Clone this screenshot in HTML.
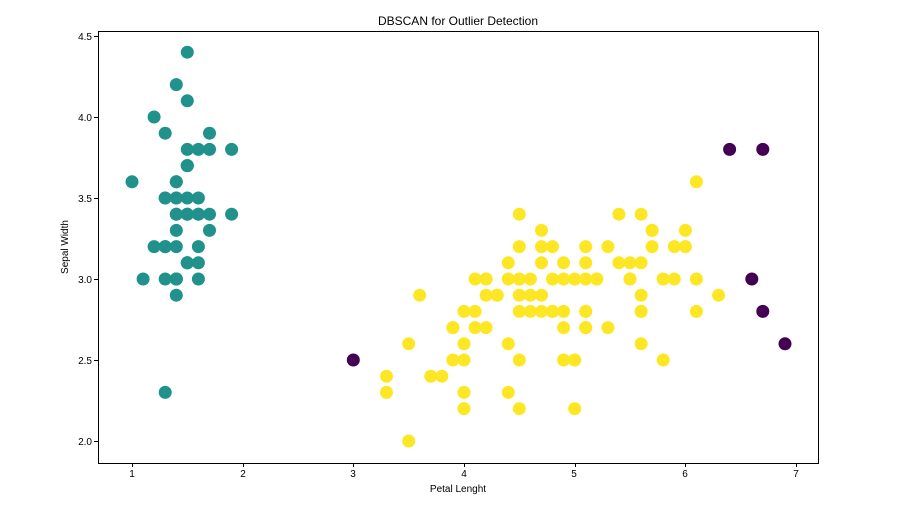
<!DOCTYPE html>
<html><head><meta charset="utf-8"><style>
body{margin:0;background:#fff;}
svg{display:block;font-family:"Liberation Sans","DejaVu Sans",sans-serif;}
</style></head><body>
<svg id="s" width="912" height="510" xmlns="http://www.w3.org/2000/svg">
<rect width="912" height="510" fill="#fff"/>
<g id="pts"></g>
<rect x="98.5" y="31.5" width="720" height="432" fill="none" stroke="#000" stroke-width="1"/>
<g font-size="10" fill="#000" text-anchor="middle">
<text x="132" y="477">1</text><text x="243" y="477">2</text><text x="353" y="477">3</text><text x="464" y="477">4</text><text x="574" y="477">5</text><text x="685" y="477">6</text><text x="796" y="477">7</text>
</g>
<g font-size="10" fill="#000" text-anchor="end">
<text x="92" y="40">4.5</text><text x="92" y="121">4.0</text><text x="92" y="202">3.5</text><text x="92" y="283">3.0</text><text x="92" y="364">2.5</text><text x="92" y="445">2.0</text>
</g>
<g stroke="#000" stroke-width="1" id="ticks"></g>
<text x="458" y="25" font-size="12" text-anchor="middle">DBSCAN for Outlier Detection</text>
<text x="458" y="492" font-size="10" text-anchor="middle">Petal Lenght</text>
<text transform="translate(68,247) rotate(-90)" font-size="10" text-anchor="middle">Sepal Width</text>
</svg>
<script>
var X=function(v){return 132+(v-1)*110.67;},Y=function(v){return 441-(v-2)*162;};
var set=[[3.5,1.4],[3.0,1.4],[3.2,1.3],[3.1,1.5],[3.6,1.4],[3.9,1.7],[3.4,1.4],[3.4,1.5],[2.9,1.4],[3.1,1.5],[3.7,1.5],[3.4,1.6],[3.0,1.4],[3.0,1.1],[4.0,1.2],[4.4,1.5],[3.9,1.3],[3.5,1.4],[3.8,1.7],[3.8,1.5],[3.4,1.7],[3.7,1.5],[3.6,1.0],[3.3,1.7],[3.4,1.9],[3.0,1.6],[3.4,1.6],[3.5,1.5],[3.4,1.4],[3.2,1.6],[3.1,1.6],[3.4,1.5],[4.1,1.5],[4.2,1.4],[3.1,1.5],[3.2,1.2],[3.5,1.3],[3.6,1.4],[3.0,1.3],[3.4,1.5],[3.5,1.3],[2.3,1.3],[3.2,1.3],[3.5,1.6],[3.8,1.9],[3.0,1.4],[3.8,1.6],[3.2,1.4],[3.7,1.5],[3.3,1.4]];
var oth=[[3.2,4.7],[3.2,4.5],[3.1,4.9],[2.3,4.0],[2.8,4.6],[2.8,4.5],[3.3,4.7],[2.4,3.3],[2.9,4.6],[2.7,3.9],[2.0,3.5],[3.0,4.2],[2.2,4.0],[2.9,4.7],[2.9,3.6],[3.1,4.4],[3.0,4.5],[2.7,4.1],[2.2,4.5],[2.5,3.9],[3.2,4.8],[2.8,4.0],[2.5,4.9],[2.8,4.7],[2.9,4.3],[3.0,4.4],[2.8,4.8],[3.0,5.0],[2.9,4.5],[2.6,3.5],[2.4,3.8],[2.4,3.7],[2.7,3.9],[2.7,5.1],[3.0,4.5],[3.4,4.5],[3.1,4.7],[2.3,4.4],[3.0,4.1],[2.5,4.0],[2.6,4.4],[3.0,4.6],[2.6,4.0],[2.3,3.3],[2.7,4.2],[3.0,4.2],[2.9,4.2],[2.9,4.3],[2.5,3.0,1],[2.8,4.1],
[3.3,6.0],[2.7,5.1],[3.0,5.9],[2.9,5.6],[3.0,5.8],[3.0,6.6,1],[2.5,4.5],[2.9,6.3],[2.5,5.8],[3.6,6.1],[3.2,5.1],[2.7,5.3],[3.0,5.5],[2.5,5.0],[2.8,5.1],[3.2,5.3],[3.0,5.5],[3.8,6.7,1],[2.6,6.9,1],[2.2,5.0],[3.2,5.7],[2.8,4.9],[2.8,6.7,1],[2.7,4.9],[3.3,5.7],[3.2,6.0],[2.8,4.8],[3.0,4.9],[2.8,5.6],[3.0,5.8],[2.8,6.1],[3.8,6.4,1],[2.8,5.6],[2.8,5.1],[2.6,5.6],[3.0,6.1],[3.4,5.6],[3.1,5.5],[3.0,4.8],[3.1,5.4],[3.1,5.6],[3.1,5.1],[2.7,5.1],[3.2,5.9],[3.3,5.7],[3.0,5.2],[2.5,5.0],[3.0,5.2],[3.4,5.4],[3.0,5.1]];
var h='';
set.forEach(function(p){h+='<circle cx="'+X(p[1]).toFixed(1)+'" cy="'+Y(p[0]).toFixed(1)+'" r="6.5" fill="#21918c"/>';});
oth.forEach(function(p){h+='<circle cx="'+X(p[1]).toFixed(1)+'" cy="'+Y(p[0]).toFixed(1)+'" r="6.5" fill="'+(p[2]?'#440154':'#fde725')+'"/>';});
document.getElementById('pts').innerHTML=h;
var t='';
for(var i=1;i<=7;i++){var x=Math.round(X(i))+0.5;t+='<line x1="'+x+'" y1="463" x2="'+x+'" y2="467"/>';}
for(var v=2;v<=4.5;v+=0.5){var y=Math.round(Y(v))+0.5;t+='<line x1="94" y1="'+y+'" x2="98" y2="'+y+'"/>';}
document.getElementById('ticks').innerHTML=t;
</script>
</body></html>
